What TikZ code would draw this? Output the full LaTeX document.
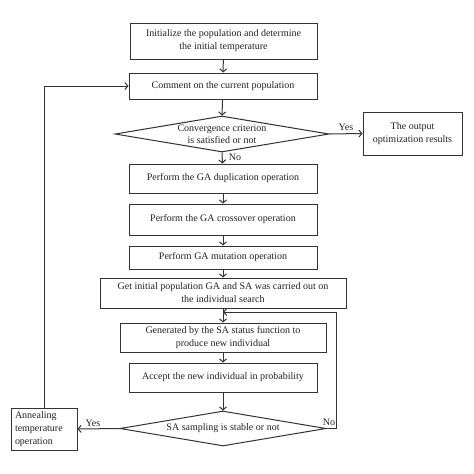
\documentclass[tikz,border=0pt]{standalone}
\usepackage{fontspec}
\setmainfont{Liberation Serif}
\usetikzlibrary{shapes.geometric,arrows.meta}
\definecolor{ink}{HTML}{333333}
\definecolor{txt}{HTML}{222222}
\tikzset{
  box/.style={draw=ink, line width=1pt, rectangle, inner sep=1pt, align=center, text=txt, font=\fontsize{10}{13}\selectfont},
  dia/.style={draw=ink, line width=1pt, diamond, inner sep=0pt},
  lbl/.style={text=txt, font=\fontsize{10}{12}\selectfont, inner sep=1pt},
  arr/.style={draw=ink, line width=1pt, -{Straight Barb[length=3pt,width=7pt]}},
  ln/.style={draw=ink, line width=1pt}
}
\begin{document}
\begin{tikzpicture}[x=1pt,y=-1pt]
\useasboundingbox[fill=white] (0,0) rectangle (474,474);
\node[box, minimum width=187pt, minimum height=36pt] (b1) at (223.5,41) {Initialize the population and determine\\the initial temperature};
\node[box, minimum width=188pt, minimum height=26pt] (b2) at (223,86) {Comment on the current population};
\node[dia, minimum width=214pt, minimum height=36pt] (d1) at (222,134) {};
\node[lbl, align=center, font=\fontsize{10}{12}\selectfont] (d1t) at (222,134) {Convergence criterion\\is satisfied or not};
\node[box, minimum width=99pt, minimum height=43pt] (out) at (412.5,133.5) {The output\\optimization results};
\node[box, minimum width=188pt, minimum height=29pt] (b3) at (223,178.5) {Perform the GA duplication operation};
\node[box, minimum width=188pt, minimum height=31pt] (b4) at (223,219.5) {Perform the GA crossover operation};
\node[box, minimum width=188pt, minimum height=23pt] (b5) at (223,257.5) {Perform GA mutation operation};
\node[box, minimum width=246pt, minimum height=30pt] (b6) at (223,293) {Get initial population GA and SA was carried out on\\the individual search};
\node[box, minimum width=206pt, minimum height=29pt] (b7) at (223,337.5) {Generated by the SA status function to\\produce new individual};
\node[box, minimum width=188pt, minimum height=29pt] (b8) at (223,377.5) {Accept the new individual in probability};
\node[dia, minimum width=206pt, minimum height=35pt] (d2) at (223,428.5) {};
\node[lbl] (d2t) at (223,428.5) {SA sampling is stable or not};
\node[box, minimum width=66pt, minimum height=42pt, align=left, text width=58pt] (ann) at (44,429) {Annealing\\temperature\\operation};
\coordinate (j) at (223,312);
\coordinate (rc) at (336,428.5);
\coordinate (rt) at (336,312);
\coordinate (lt) at (44,86);
% main flow
\draw[arr] (b1) -- (b2);
\draw[arr] (b2) -- (d1.north);
\draw[arr] (d1.south) -- (b3);
\draw[arr] (b3) -- (b4);
\draw[arr] (b4) -- (b5);
\draw[arr] (b5) -- (b6);
\draw[arr] (b6) -- (b7);
\draw[arr] (b7) -- (b8);
\draw[arr] (b8) -- (d2.north);
\draw[arr] (d1.east) -- (out.west);
\draw[arr] (d2.west) -- (ann.east);
\draw[ln] (d2.east) -- (rc) -- (rt);
\draw[arr] (rt) -- (j);
\draw[ln] (ann.north) -- (lt);
\draw[arr] (lt) -- (b2.west);
% labels
\node[lbl] (yes1) at (346,127) {Yes};
\node[lbl] (no1) at (235,157) {No};
\node[lbl] (yes2) at (93,423) {Yes};
\node[lbl] (no2) at (329,422) {No};
\end{tikzpicture}
\end{document}
